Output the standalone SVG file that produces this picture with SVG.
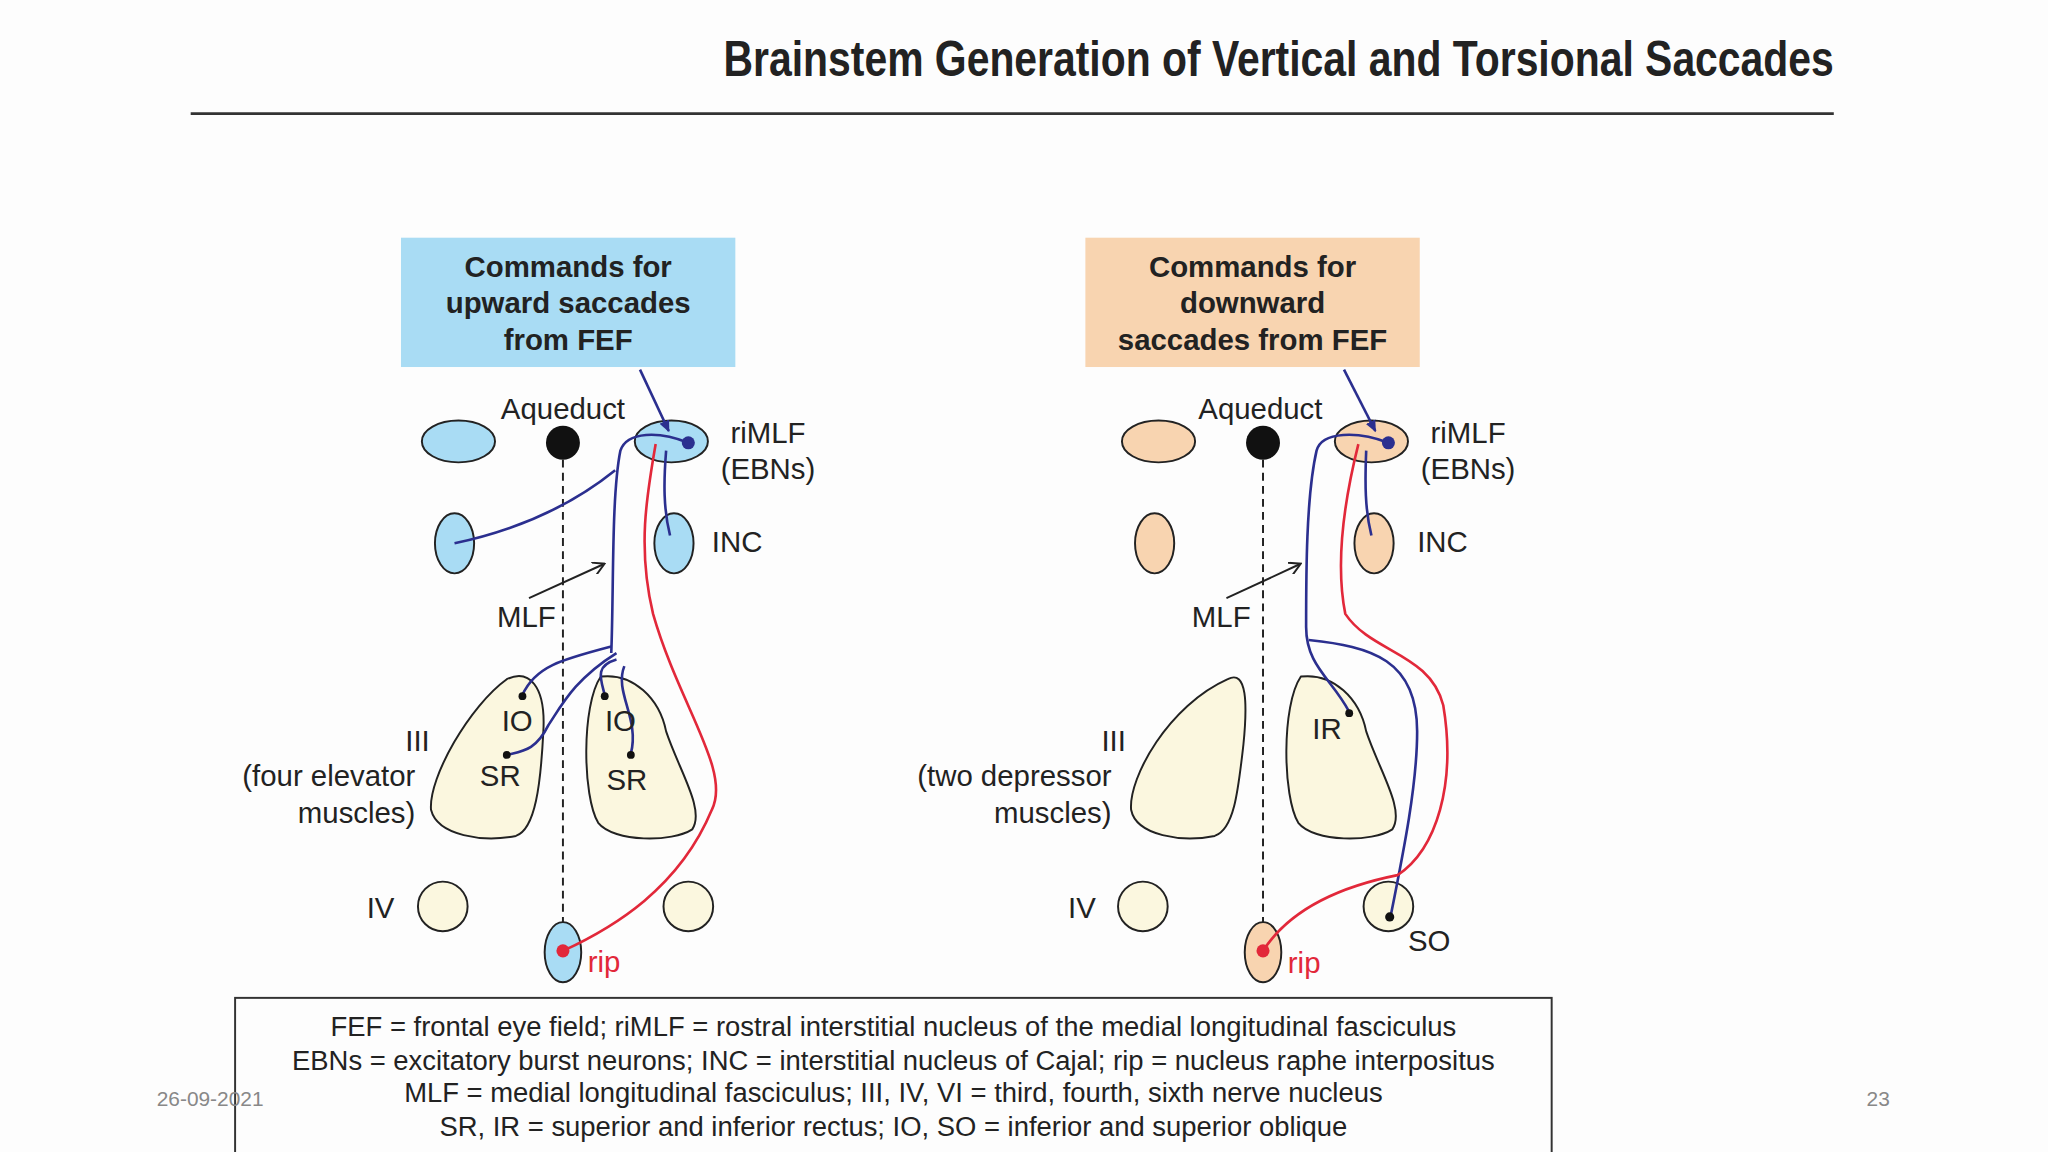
<svg xmlns="http://www.w3.org/2000/svg" width="2048" height="1152" viewBox="0 0 2048 1152">
<style>
text{font-family:"Liberation Sans",Arial,sans-serif;fill:#222}
.lb{font-size:22.5px}
.bx{font-size:22.5px;font-weight:bold;text-anchor:middle}
.bl{fill:#a9dcf4;stroke:#222;stroke-width:1.5}
.pe{fill:#f8d4b0;stroke:#222;stroke-width:1.5}
.cr{fill:#fbf7df;stroke:#222;stroke-width:1.5}
.nb{fill:none;stroke:#2b2f8f;stroke-width:2}
.nr{fill:none;stroke:#e2283a;stroke-width:2}
.ds{stroke:#222;stroke-width:1.5;stroke-dasharray:6 4}
.lg{font-size:21px;text-anchor:middle}
</style>
<defs><marker id="a" markerWidth="10" markerHeight="10" refX="8" refY="5" orient="auto" markerUnits="userSpaceOnUse"><path d="M0,0 L9,5 L0,10" fill="none" stroke="#222" stroke-width="1.5"/></marker>
<marker id="ab" markerWidth="10" markerHeight="10" refX="8" refY="5" orient="auto" markerUnits="userSpaceOnUse"><path d="M0,1 L9,5 L0,9 z" fill="#2b2f8f"/></marker></defs>
<rect width="2048" height="1152" fill="#fdfdfd"/>
<g transform="scale(1.30612)">
<text x="1404" y="58" text-anchor="end" font-size="38" font-weight="bold" textLength="850" lengthAdjust="spacingAndGlyphs">Brainstem Generation of Vertical and Torsional Saccades</text>
<line x1="146" y1="87" x2="1404" y2="87" stroke="#333" stroke-width="2"/>

<g id="left">
<rect x="307" y="182" width="256" height="99" fill="#a9dcf4"/>
<text class="bx" x="435" y="212">Commands for</text><text class="bx" x="435" y="240">upward saccades</text><text class="bx" x="435" y="268">from FEF</text>
<line class="ds" x1="431" y1="352" x2="431" y2="712"/>
<ellipse class="bl" cx="351" cy="338" rx="28" ry="16"/>
<circle cx="431" cy="339" r="13" fill="#111"/>
<ellipse class="bl" cx="514" cy="338" rx="28" ry="16"/>
<ellipse class="bl" cx="348" cy="416" rx="15" ry="23"/>
<ellipse class="bl" cx="516" cy="416" rx="15" ry="23"/>
<path class="cr" d="M388,520 C405,512 418,525 416,560 C414,600 410,635 395,640 C370,645 335,640 330,620 C328,595 360,540 388,520 z"/>
<path class="cr" d="M460,518 C485,515 505,535 510,560 C520,590 540,620 530,635 C515,645 470,645 458,630 C446,610 445,540 460,518 z"/>
<circle class="cr" cx="339" cy="694" r="19"/><circle class="cr" cx="527" cy="694" r="19"/>
<ellipse class="bl" cx="431" cy="729" rx="14" ry="23"/>
<path class="nb" d="M490,283 L512,330" marker-end="url(#ab)"/>
<path class="nb" d="M527,339 C505,330 480,330 475,345 C468,380 470,450 468,500"/>
<path class="nb" d="M471,360 C440,385 400,405 348,416"/>
<path class="nb" d="M510,345 C508,370 508,390 513,410"/>
<path class="nb" d="M468,495 C430,505 410,510 400,532"/>
<path class="nb" d="M472,500 C440,520 430,540 420,555 C410,575 400,575 388,578"/>
<path class="nb" d="M472,505 C455,510 460,520 463,532"/>
<path class="nb" d="M478,510 C470,530 490,550 483,577"/>
<circle cx="527" cy="339" r="5" fill="#2b2f8f"/>
<circle cx="400" cy="533" r="3" fill="#111"/><circle cx="388" cy="578" r="3" fill="#111"/>
<circle cx="463" cy="533" r="3" fill="#111"/><circle cx="483" cy="578" r="3" fill="#111"/>
<path class="nr" d="M502,340 C495,380 488,420 500,470 C520,540 560,590 545,620 C520,680 470,710 431,728"/>
<circle cx="431" cy="728" r="5" fill="#e2283a"/>
<path d="M405,458 L462,432" stroke="#222" stroke-width="1.5" marker-end="url(#a)"/>
<text class="lb" x="431" y="321" text-anchor="middle">Aqueduct</text>
<text class="lb" x="588" y="339" text-anchor="middle">riMLF</text><text class="lb" x="588" y="367" text-anchor="middle">(EBNs)</text>
<text class="lb" x="545" y="423">INC</text><text class="lb" x="403" y="480" text-anchor="middle">MLF</text>
<text class="lb" x="329" y="575" text-anchor="end">III</text>
<text class="lb" x="318" y="602" text-anchor="end">(four elevator</text><text class="lb" x="318" y="630" text-anchor="end">muscles)</text>
<text class="lb" x="302" y="703" text-anchor="end">IV</text>
<text class="lb" x="450" y="744" style="fill:#e2283a">rip</text>
<text class="lb" x="396" y="560" text-anchor="middle">IO</text><text class="lb" x="383" y="602" text-anchor="middle">SR</text>
<text class="lb" x="475" y="560" text-anchor="middle">IO</text><text class="lb" x="480" y="605" text-anchor="middle">SR</text>
</g>

<g id="right">
<rect x="831" y="182" width="256" height="99" fill="#f8d4b0"/>
<text class="bx" x="959" y="212">Commands for</text><text class="bx" x="959" y="240">downward</text><text class="bx" x="959" y="268">saccades from FEF</text>
<line class="ds" x1="967" y1="352" x2="967" y2="712"/>
<ellipse class="pe" cx="887" cy="338" rx="28" ry="16"/>
<circle cx="967" cy="339" r="13" fill="#111"/>
<ellipse class="pe" cx="1050" cy="338" rx="28" ry="16"/>
<ellipse class="pe" cx="884" cy="416" rx="15" ry="23"/>
<ellipse class="pe" cx="1052" cy="416" rx="15" ry="23"/>
<path class="cr" d="M940,520 C955,512 955,540 952,570 C948,605 945,635 930,640 C905,645 870,640 866,620 C864,595 895,540 940,520 z"/>
<path class="cr" d="M996,518 C1021,515 1041,535 1046,560 C1056,590 1076,620 1066,635 C1051,645 1006,645 994,630 C982,610 981,540 996,518 z"/>
<circle class="cr" cx="875" cy="694" r="19"/><circle class="cr" cx="1063" cy="694" r="19"/>
<ellipse class="pe" cx="967" cy="729" rx="14" ry="23"/>
<path class="nb" d="M1029,283 L1053,330" marker-end="url(#ab)"/>
<path class="nb" d="M1063,339 C1040,330 1012,330 1008,345 C1000,380 1000,440 1000,480 C1000,510 1020,520 1033,545"/>
<path class="nb" d="M1046,345 C1045,370 1045,390 1050,410"/>
<path class="nb" d="M1002,490 C1050,495 1085,505 1085,560 C1085,600 1075,650 1065,700"/>
<circle cx="1063" cy="339" r="5" fill="#2b2f8f"/>
<circle cx="1033" cy="546" r="3" fill="#111"/><circle cx="1064" cy="702" r="3.5" fill="#111"/>
<path class="nr" d="M1040,340 C1030,380 1022,430 1030,470 C1050,500 1095,500 1105,540 C1115,600 1100,650 1070,670 C1020,680 985,700 967,728"/>
<circle cx="967" cy="728" r="5" fill="#e2283a"/>
<path d="M939,458 L995,432" stroke="#222" stroke-width="1.5" marker-end="url(#a)"/>
<text class="lb" x="965" y="321" text-anchor="middle">Aqueduct</text>
<text class="lb" x="1124" y="339" text-anchor="middle">riMLF</text><text class="lb" x="1124" y="367" text-anchor="middle">(EBNs)</text>
<text class="lb" x="1085" y="423">INC</text><text class="lb" x="935" y="480" text-anchor="middle">MLF</text>
<text class="lb" x="862" y="575" text-anchor="end">III</text>
<text class="lb" x="851" y="602" text-anchor="end">(two depressor</text><text class="lb" x="851" y="630" text-anchor="end">muscles)</text>
<text class="lb" x="839" y="703" text-anchor="end">IV</text>
<text class="lb" x="986" y="745" style="fill:#e2283a">rip</text>
<text class="lb" x="1016" y="566" text-anchor="middle">IR</text>
<text class="lb" x="1078" y="728">SO</text>
</g>

<g id="legend">
<rect x="180" y="764" width="1008" height="130" fill="none" stroke="#333" stroke-width="1.5"/>
<text class="lg" x="684" y="793">FEF = frontal eye field; riMLF = rostral interstitial nucleus of the medial longitudinal fasciculus</text>
<text class="lg" x="684" y="819">EBNs = excitatory burst neurons; INC = interstitial nucleus of Cajal; rip = nucleus raphe interpositus</text>
<text class="lg" x="684" y="844">MLF = medial longitudinal fasciculus; III, IV, VI = third, fourth, sixth nerve nucleus</text>
<text class="lg" x="684" y="870">SR, IR = superior and inferior rectus; IO, SO = inferior and superior oblique</text>
</g>
<text x="120" y="847" font-size="16" style="fill:#888">26-09-2021</text>
<text x="1438" y="847" font-size="16" text-anchor="middle" style="fill:#888">23</text>
</g>
</svg>
